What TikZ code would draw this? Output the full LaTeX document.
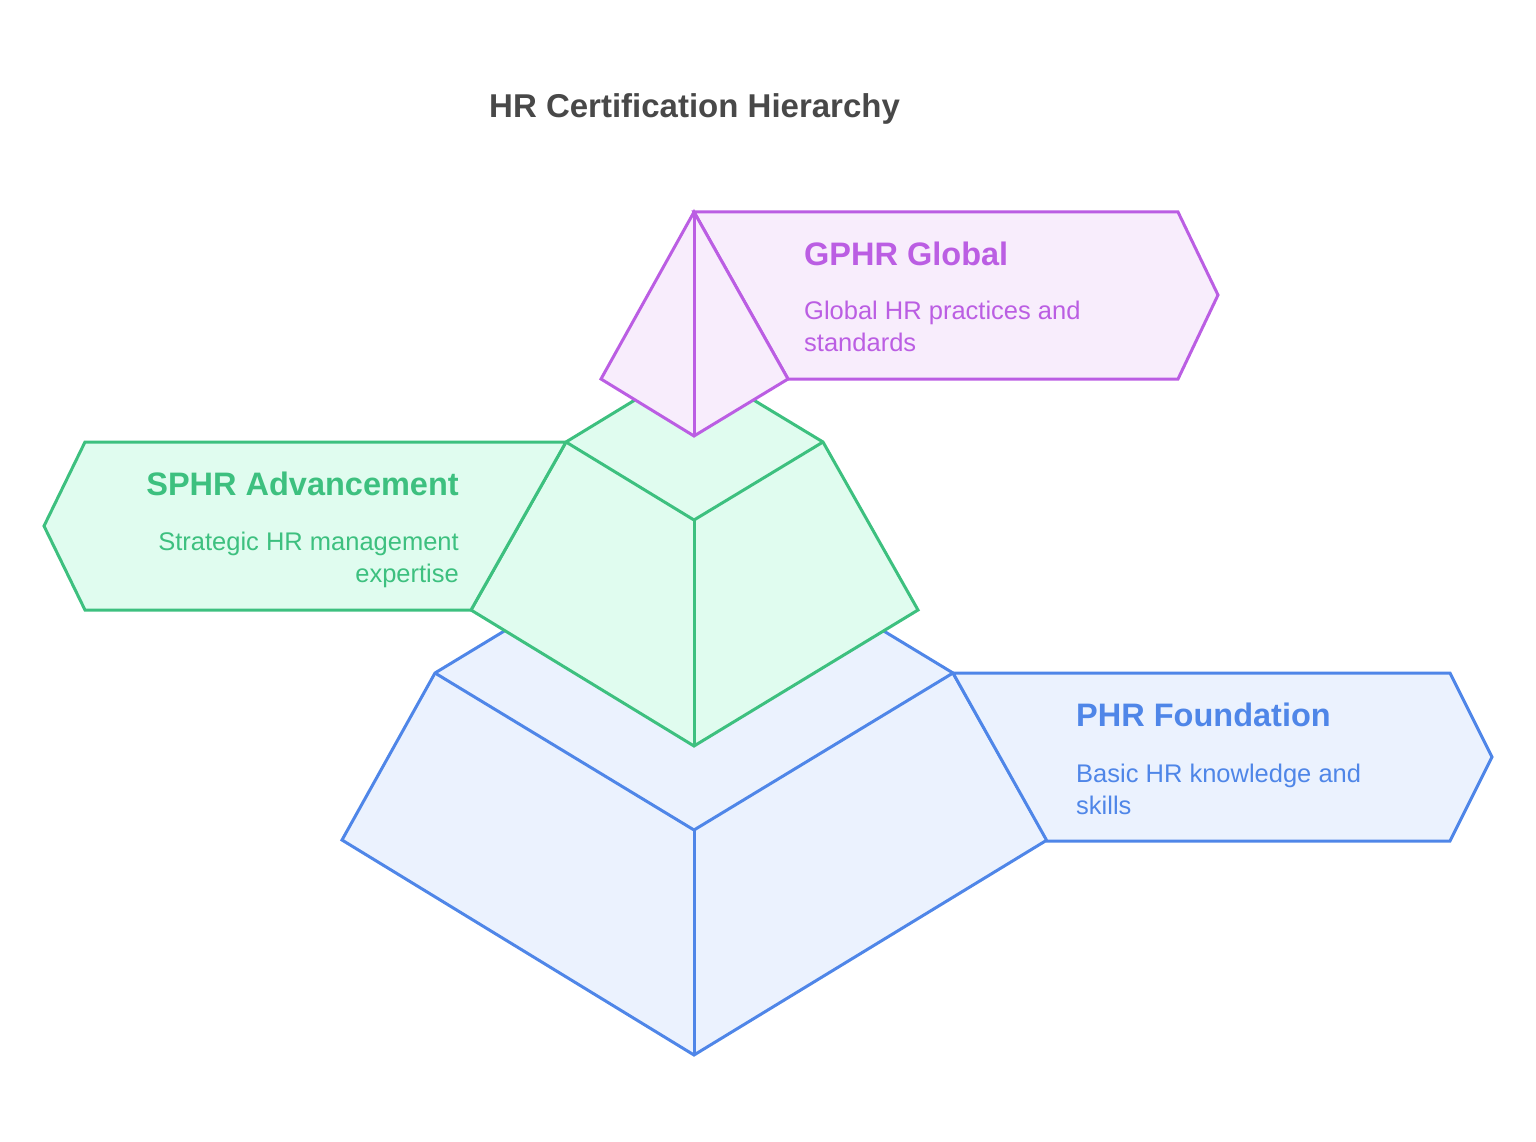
\documentclass[tikz,border=0pt]{standalone}
\usepackage{fontspec}
\setmainfont{Liberation Sans}
\usetikzlibrary{positioning}

\definecolor{titlegrey}{HTML}{484848}
\definecolor{purpleline}{HTML}{BB5EE3}
\definecolor{purplefill}{HTML}{F8EDFC}
\definecolor{greenline}{HTML}{3DC07F}
\definecolor{greenfill}{HTML}{E0FCEF}
\definecolor{blueline}{HTML}{4F86E8}
\definecolor{bluefill}{HTML}{EBF2FE}

\tikzset{
  face/.style={line width=3pt, line join=miter},
  headline/.style={inner sep=0pt, font=\fontsize{32.5}{40}\selectfont\bfseries},
  blurb/.style={inner sep=0pt, font=\fontsize{25.5}{31.5}\selectfont},
}

\begin{document}
\begin{tikzpicture}[x=1pt,y=-1pt]
\useasboundingbox (0,0) rectangle (1536,1142);

\node[anchor=base west,inner sep=0pt,font=\fontsize{33}{40}\selectfont\bfseries,text=titlegrey] (title) at (489,118) {HR Certification Hierarchy};

% bottom layer
\filldraw[face,draw=blueline,fill=bluefill]
  (694,516) -- (435,673) -- (342,840) -- (694,1055) -- (1047,840) -- (953,673) -- cycle;
\draw[face,blueline] (435,673) -- (694,830) -- (953,673);
\draw[face,blueline] (694,830) -- (694,1055);
\filldraw[face,draw=blueline,fill=bluefill]
  (953,673) -- (1450,673) -- (1492,757) -- (1450,841) -- (1047,841) -- cycle;
\node[anchor=base west,headline,text=blueline] (phr) at (1076,726) {PHR Foundation};
\node[anchor=north west,blurb,text=blueline,align=left] (phrtext) at (1076,764)
  {Basic HR knowledge and\\skills};

% middle layer
\filldraw[face,draw=greenline,fill=greenfill]
  (694,364) -- (566,442) -- (471,610) -- (694,746) -- (918,610) -- (823,442) -- cycle;
\draw[face,greenline] (566,442) -- (694,520) -- (823,442);
\draw[face,greenline] (694,520) -- (694,746);
\filldraw[face,draw=greenline,fill=greenfill]
  (566,442) -- (85,442) -- (44,526) -- (85,610) -- (471,610) -- cycle;
\node[anchor=base east,headline,text=greenline] (sphr) at (459,495) {SPHR Advancement};
\node[anchor=north east,blurb,text=greenline,align=right] (sphrtext) at (459,532)
  {Strategic HR management\\expertise};

% top layer
\filldraw[face,draw=purpleline,fill=purplefill]
  (694,212) -- (1178,212) -- (1218,295) -- (1178,379) -- (788,379) -- cycle;
\filldraw[face,draw=purpleline,fill=purplefill]
  (694,212) -- (601,379) -- (694,436) -- (788,379) -- cycle;
\draw[face,purpleline] (694,212) -- (694,436);
\node[anchor=base west,headline,text=purpleline] (gphr) at (804,265) {GPHR Global};
\node[anchor=north west,blurb,text=purpleline,align=left] (gphrtext) at (804,301)
  {Global HR practices and\\standards};
\end{tikzpicture}
\end{document}
